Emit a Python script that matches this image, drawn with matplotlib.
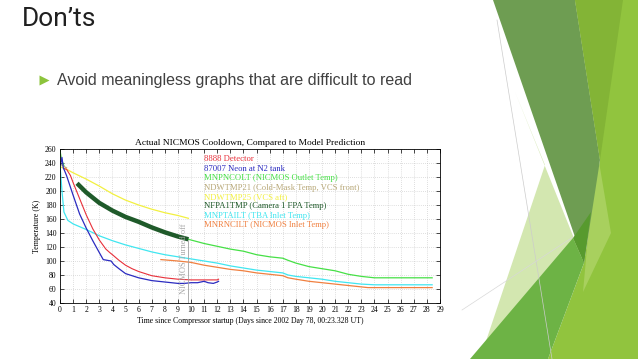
import numpy as np
import matplotlib
matplotlib.use('Agg')
import matplotlib.pyplot as plt
from matplotlib.patches import Polygon

nan = np.nan

# ---- data (days, kelvin) ----
red_x = [0.3, 0.5, 0.8, 1, 1.5, 2, 2.5, 3, 3.5, 3.8, 4, 4.5, 5, 5.5, 6, 7, 8, 9, 10, 11, 12, 12.1]
red_y = [232, 231, 222, 212, 189, 166, 146, 130, 117, 112, 109, 101, 94, 89, 85, 79, 76, 74, 73, 73, 73, 74]

blue_x = [0.05, 0.15, 0.25, 0.35, 0.5, 1, 1.5, 2, 2.5, 3, 3.3, 3.6, 3.9, 4.1, 4.5, 5, 6, 7, 8, 9, 9.5, 10, 10.5, 11, 11.3, 11.7, 12, 12.1]
blue_y = [238, 248, 233, 229, 222, 194, 167, 147, 129, 112, 102, 101, 100, 95, 89, 82, 76, 72, 70, 68, 68, 69, 69, 71, 69, 68, 70, 71]

lgreen_x = [0, 0.1, 0.3, nan, 9.8, 11, 12, 13, 14, 15, 16, 17, 17.4, 18, 19, 20, 21, 22, 23, 24, 25, 26, 27, 28.4]
lgreen_y = [258, 246, 236, nan, 131, 125, 121, 117, 114, 109, 106, 104, 101, 97, 92, 89, 86, 81, 78, 76, 76, 76, 76, 76]

tan_x = [0.05, 0.3, 0.5]
tan_y = [238, 235, 233]

yellow_x = [0.1, 0.5, 1, 2, 3, 4, 5, 6, 7, 8, 9, 9.8]
yellow_y = [234, 231, 226, 217, 207, 196, 187, 180, 174, 169, 165, 161]

dgreen_x = [1.3, 2, 3, 4, 5, 6, 7, 8, 9, 9.8]
dgreen_y = [211, 198, 183, 172, 163, 156, 148, 141, 135, 131]

cyan_x = [0, 0.15, 0.3, 0.6, 1, 2, 3, 4, 5, 6, 7, 8, 9, 10, 11, 12, 13, 14, 15, 16, 17, 17.4, 18, 19, 20, 21, 22, 23, 24, 28.4]
cyan_y = [238, 200, 170, 158, 153, 145, 136, 129, 123, 118, 113, 109, 106, 103, 100, 97, 93, 90, 87, 85, 83, 80, 78, 76, 74, 71, 69, 67, 66, 66]

orange_x = [7.7, 9, 10, 11, 12, 13, 14, 15, 16, 17, 17.4, 18, 19, 20, 21, 22, 23, 23.5, 28.4]
orange_y = [102, 100, 98, 94, 91, 88, 86, 83, 81, 79, 76, 74, 71, 69, 67, 65, 63, 62, 62]

legend_names = ['8888 Detector', '87007 Neon at N2 tank', 'MNPNCOLT (NICMOS Outlet Temp)',
                'NDWTMP21 (Cold-Mask Temp, VCS front)', 'NDWTMP25 (VCS aft)',
                'NFPA1TMP (Camera 1 FPA Temp)', 'MNPTAILT (TBA Inlet Temp)',
                'MNRNCILT (NICMOS Inlet Temp)']
legend_colors = ['#e8303a', '#2b2bc0', '#46e046', '#b8a878', '#f2f040',
                 '#1f5a2a', '#40e6f0', '#f08040']

fig = plt.figure(figsize=(6.38, 3.59), dpi=100)

# ---- slide background: title, bullet, green facets ----
bg = fig.add_axes([0, 0, 1, 1])
bg.set_xlim(0, 638)
bg.set_ylim(359, 0)
bg.axis('off')

shapes = [
    ([(515, 92), (584, 263), (480, 359), (545, 165)], '#d3e7b0'),
    ([(575, 0), (638, 0), (638, 359), (548, 359), (584, 263), (600, 160)], '#91c43e'),
    ([(470, 359), (548, 359), (584, 263), (573, 238)], '#6db345'),
    ([(597, 150), (611, 233), (583, 292), (590, 215)], '#a8d05e'),
    ([(493, 0), (575, 0), (600, 160), (584, 263)], '#6e9d52'),
    ([(575, 0), (623, 0), (600, 160)], '#83b436'),
    ([(573, 238), (591, 212), (584, 263)], '#579a2e'),
]
for pts, c in shapes:
    bg.add_patch(Polygon(pts, closed=True, facecolor=c, edgecolor='none'))
bg.plot([497, 552], [20, 359], color='#cccccc', lw=0.5)
bg.plot([462, 573], [310, 237], color='#d8d8d8', lw=0.5)

bg.text(22, 19, 'Don’ts', fontsize=19, va='center', ha='left',
        family=['Roboto', 'DejaVu Sans'], color='#202020')
bg.plot([44], [80], marker='>', color='#8cc43c', markersize=6.5, mec='none')
bg.text(57, 80, 'Avoid meaningless graphs that are difficult to read', fontsize=11.5,
        va='center', ha='left', family='Liberation Sans', color='#404040')

# ---- the chart ----
ax = fig.add_axes([60 / 638, 56 / 359, 380 / 638, 154 / 359])
serif = 'Liberation Serif'

ax.plot(lgreen_x, lgreen_y, color=legend_colors[2], lw=0.9)
ax.plot(tan_x, tan_y, color=legend_colors[3], lw=0.9)
ax.plot(yellow_x, yellow_y, color=legend_colors[4], lw=0.9)
ax.plot(cyan_x, cyan_y, color=legend_colors[6], lw=0.9)
ax.plot(orange_x, orange_y, color=legend_colors[7], lw=0.9)
ax.plot(red_x, red_y, color=legend_colors[0], lw=0.8)
ax.plot(blue_x, blue_y, color=legend_colors[1], lw=0.9)
ax.plot(dgreen_x, dgreen_y, color=legend_colors[5], lw=3.2, solid_capstyle='butt')

ax.plot([9.8, 9.8], [40, 130], color='#a0a0a0', lw=0.6)
ax.text(9.45, 103, 'NICMOS Turned off', rotation=90, fontsize=6, color='#a8a8a8',
        va='center', ha='center', family=serif)

for i, (name, c) in enumerate(zip(legend_names, legend_colors)):
    ax.text(11.0, 245.5 - 13.5 * i, name, color=c, fontsize=6.2, family=serif,
            va='center', ha='left')

ax.set_xlim(0, 29)
ax.set_ylim(40, 260)
ax.set_xticks(range(0, 30))
ax.set_yticks(range(40, 261, 20))
ax.grid(True, ls=(0, (1, 2)), color='#c0c0c0', lw=0.5)
ax.tick_params(direction='in', top=True, right=True, length=3, width=0.5,
               labelsize=5.5, pad=2.5)
for lab in ax.get_xticklabels() + ax.get_yticklabels():
    lab.set_family(serif)
for s in ax.spines.values():
    s.set_linewidth(0.6)

ax.set_title('Actual NICMOS Cooldown, Compared to Model Prediction', fontsize=6.8,
             family=serif, pad=3)
ax.set_xlabel('Time since Compressor startup (Days since 2002 Day 78, 00:23.328 UT)',
              fontsize=5.6, family=serif, labelpad=2)
ax.set_ylabel('Temperature (K)', fontsize=5.8, family=serif, labelpad=3)

fig.savefig('out.png', dpi=100)
